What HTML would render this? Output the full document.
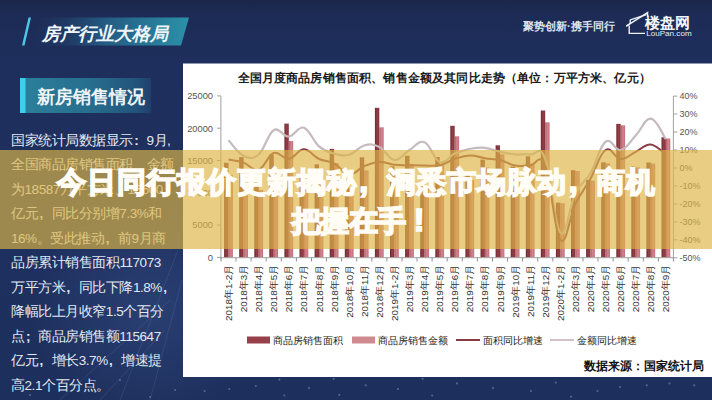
<!DOCTYPE html>
<html><head><meta charset="utf-8">
<style>
html,body{margin:0;padding:0}
body{width:712px;height:400px;overflow:hidden;position:relative;background:#1e2d58;font-family:"Liberation Sans",sans-serif}
.bg{position:absolute;left:0;top:0;width:712px;height:400px;background:linear-gradient(180deg,#1a2749 0px,#1d2b55 14px,#1e2f5d 60px,#1e305f 250px,#1d2f5c 400px)}
.bg2{position:absolute;left:0;top:0;width:712px;height:400px;background:radial-gradient(ellipse 120px 110px at 150px 310px,rgba(70,100,160,0.30),rgba(70,100,160,0) 100%)}
.ban{position:absolute;left:0;top:0}
.body{position:absolute;left:11px;top:128.5px;color:#e2e8f2;font-size:13.5px;letter-spacing:-0.45px;line-height:24.5px;white-space:nowrap}
.p{font-style:normal;display:inline-block;width:1em;text-indent:0.1em;font-weight:bold}
.band{position:absolute;left:0;top:150px;width:712px;height:99px;background:rgba(220,180,68,0.67)}
.big{position:absolute;left:0;top:162.5px;width:712px;text-align:center;color:#fff;font-weight:bold;font-size:28.5px;line-height:39.5px;letter-spacing:1px;text-indent:1px;-webkit-text-stroke:1.7px #fffdf6;color:#fffdf6}
.bc{font-style:normal;display:inline-block;width:29.5px;text-indent:2px;text-align:left;font-size:34px;line-height:10px}
.bx{font-style:normal;display:inline-block;width:29px;text-indent:8px;text-align:left;font-size:32px;line-height:10px}
.l2{padding-left:14.5px;letter-spacing:-0.5px}
</style></head><body>
<div class="bg"></div><div class="bg2"></div>
<svg class="ban" width="712" height="400" viewBox="0 0 712 400">
<defs>
<linearGradient id="gm" x1="0" x2="1"><stop offset="0" stop-color="#6a2a30"/><stop offset="0.5" stop-color="#933d45"/><stop offset="1" stop-color="#82343b"/></linearGradient>
<linearGradient id="gp" x1="0" x2="1"><stop offset="0" stop-color="#b35a68"/><stop offset="0.5" stop-color="#d38490"/><stop offset="1" stop-color="#c0707c"/></linearGradient>
<linearGradient id="bn" x1="0" x2="1"><stop offset="0" stop-color="#1f3a66" stop-opacity="0"/><stop offset="0.45" stop-color="#245a82"/><stop offset="1" stop-color="#2b91a8"/></linearGradient>
<linearGradient id="sec" x1="0" x2="1"><stop offset="0" stop-color="#2b809a"/><stop offset="0.55" stop-color="#276d8e"/><stop offset="0.88" stop-color="#22547b"/><stop offset="1" stop-color="#213f6c"/></linearGradient>
</defs>
<polygon points="22,45.5 28.5,17.5 31,17.5 24.5,45.5" fill="#4cc8e6"/>
<polygon points="40,17.5 189,17.5 181,45.5 34,45.5" fill="url(#bn)"/>
<text x="42" y="40" font-size="18" font-style="italic" font-weight="bold" fill="#eef6fb" style="-webkit-text-stroke:0.6px #eef6fb">房产行业大格局</text>
<text x="523" y="30" font-size="11" font-weight="bold" fill="#dde3ec">聚势创新·携手同行</text>
<g fill="none" stroke="#eef2f8" stroke-width="1.4" stroke-linejoin="miter">
<path d="M626.3,26.2 L647.6,12.6 L647.6,17"/>
<path d="M630.2,19.8 L646.5,14.6"/>
<path d="M630.2,19.8 L630.2,23.5 L626.3,26.2"/>
<path d="M629.2,25.5 L629.2,33.4 L645,33.4"/>
</g>
<text x="645.3" y="28.4" font-size="15.3" font-weight="bold" fill="#f4f6fa" style="-webkit-text-stroke:0.3px #f4f6fa">楼盘网</text>
<text x="646.2" y="35.6" font-size="8.1" fill="#e8eef6">LouPan.com</text>
<rect x="20" y="78" width="131" height="35" fill="url(#sec)"/>
<rect x="20" y="78" width="5.5" height="35" fill="#3ad0ec"/>
<text x="36.5" y="102.6" font-size="18" font-weight="bold" fill="#eef3f8" style="-webkit-text-stroke:0.5px #eef3f8">新房销售情况</text>
<circle cx="204.6" cy="391.0" r="1.1" fill="#8fa6d0" opacity="0.45"/>
<circle cx="229.3" cy="389.0" r="1.1" fill="#8fa6d0" opacity="0.45"/>
<circle cx="255.8" cy="386.0" r="1.1" fill="#8fa6d0" opacity="0.45"/>
<circle cx="279.4" cy="379.6" r="1.1" fill="#8fa6d0" opacity="0.45"/>
<circle cx="284.3" cy="395.5" r="1.1" fill="#8fa6d0" opacity="0.45"/>
<circle cx="309.0" cy="388.0" r="1.1" fill="#8fa6d0" opacity="0.45"/>
<circle cx="333.6" cy="378.8" r="1.1" fill="#8fa6d0" opacity="0.45"/>
<circle cx="339.3" cy="394.8" r="1.1" fill="#8fa6d0" opacity="0.45"/>
<circle cx="365.8" cy="385.3" r="1.1" fill="#8fa6d0" opacity="0.45"/>
<circle cx="398.0" cy="389.0" r="1.1" fill="#8fa6d0" opacity="0.45"/>
<circle cx="422.7" cy="378.8" r="1.1" fill="#8fa6d0" opacity="0.45"/>
<circle cx="432.2" cy="395.5" r="1.1" fill="#8fa6d0" opacity="0.45"/>
<circle cx="457.0" cy="383.4" r="1.1" fill="#8fa6d0" opacity="0.45"/>
<circle cx="493.0" cy="388.0" r="1.1" fill="#8fa6d0" opacity="0.45"/>
<circle cx="531.0" cy="391.0" r="1.1" fill="#8fa6d0" opacity="0.45"/>
<circle cx="555.8" cy="382.6" r="1.1" fill="#8fa6d0" opacity="0.45"/>
<circle cx="571.0" cy="396.6" r="1.1" fill="#8fa6d0" opacity="0.45"/>
<circle cx="597.5" cy="391.0" r="1.1" fill="#8fa6d0" opacity="0.45"/>
<circle cx="620.0" cy="387.0" r="1.1" fill="#8fa6d0" opacity="0.45"/>
<circle cx="646.8" cy="385.3" r="1.1" fill="#8fa6d0" opacity="0.45"/>
<circle cx="669.5" cy="383.4" r="1.1" fill="#8fa6d0" opacity="0.45"/>
<circle cx="694.2" cy="385.3" r="1.1" fill="#8fa6d0" opacity="0.45"/>
<circle cx="30.0" cy="395.0" r="1.1" fill="#8fa6d0" opacity="0.45"/>
<circle cx="95.0" cy="392.0" r="1.1" fill="#8fa6d0" opacity="0.45"/>
<circle cx="150.0" cy="397.0" r="1.1" fill="#8fa6d0" opacity="0.45"/>
<circle cx="120.0" cy="380.0" r="1.1" fill="#8fa6d0" opacity="0.45"/>
<circle cx="175.0" cy="390.0" r="1.1" fill="#8fa6d0" opacity="0.45"/><g stroke="#6d8cc4" stroke-width="0.8" opacity="0.25" fill="none">
<path d="M178,250 L120,400"/><path d="M182,280 L150,400"/><path d="M170,300 L60,400"/><path d="M165,330 L100,400"/>
</g><rect x="183" y="63.5" width="529" height="313.5" fill="#ffffff"/>
<text x="237.5" y="81.5" font-size="12" font-weight="bold" fill="#1a1a1a" letter-spacing="0.16">全国月度商品房销售面积、销售金额及其同比走势（单位：万平方米、亿元）</text>
<line x1="220.9" y1="96" x2="220.9" y2="258.8" stroke="#a0a0a0" stroke-width="1"/>
<line x1="217" y1="257.4" x2="220.9" y2="257.4" stroke="#a0a0a0"/>
<text x="213" y="260.7" font-size="9.3" fill="#555" text-anchor="end">0</text>
<line x1="217" y1="225.1" x2="220.9" y2="225.1" stroke="#a0a0a0"/>
<text x="213" y="228.4" font-size="9.3" fill="#555" text-anchor="end">5000</text>
<line x1="217" y1="192.8" x2="220.9" y2="192.8" stroke="#a0a0a0"/>
<text x="213" y="196.1" font-size="9.3" fill="#555" text-anchor="end">10000</text>
<line x1="217" y1="160.5" x2="220.9" y2="160.5" stroke="#a0a0a0"/>
<text x="213" y="163.8" font-size="9.3" fill="#555" text-anchor="end">15000</text>
<line x1="217" y1="128.2" x2="220.9" y2="128.2" stroke="#a0a0a0"/>
<text x="213" y="131.5" font-size="9.3" fill="#555" text-anchor="end">20000</text>
<line x1="217" y1="95.9" x2="220.9" y2="95.9" stroke="#a0a0a0"/>
<text x="213" y="99.2" font-size="9.3" fill="#555" text-anchor="end">25000</text>
<line x1="673.4" y1="96" x2="673.4" y2="258.8" stroke="#a0a0a0" stroke-width="1"/>
<line x1="673.4" y1="96.1" x2="677.3" y2="96.1" stroke="#a0a0a0"/>
<text x="679.5" y="99.3" font-size="9" fill="#555">40%</text>
<line x1="673.4" y1="114.0" x2="677.3" y2="114.0" stroke="#a0a0a0"/>
<text x="679.5" y="117.2" font-size="9" fill="#555">30%</text>
<line x1="673.4" y1="132.0" x2="677.3" y2="132.0" stroke="#a0a0a0"/>
<text x="679.5" y="135.2" font-size="9" fill="#555">20%</text>
<line x1="673.4" y1="150.0" x2="677.3" y2="150.0" stroke="#a0a0a0"/>
<text x="679.5" y="153.2" font-size="9" fill="#555">10%</text>
<line x1="673.4" y1="168.0" x2="677.3" y2="168.0" stroke="#a0a0a0"/>
<text x="679.5" y="171.2" font-size="9" fill="#555">0%</text>
<line x1="673.4" y1="185.9" x2="677.3" y2="185.9" stroke="#a0a0a0"/>
<text x="679.5" y="189.1" font-size="9" fill="#555">-10%</text>
<line x1="673.4" y1="203.9" x2="677.3" y2="203.9" stroke="#a0a0a0"/>
<text x="679.5" y="207.1" font-size="9" fill="#555">-20%</text>
<line x1="673.4" y1="221.9" x2="677.3" y2="221.9" stroke="#a0a0a0"/>
<text x="679.5" y="225.1" font-size="9" fill="#555">-30%</text>
<line x1="673.4" y1="239.8" x2="677.3" y2="239.8" stroke="#a0a0a0"/>
<text x="679.5" y="243.0" font-size="9" fill="#555">-40%</text>
<line x1="673.4" y1="257.8" x2="677.3" y2="257.8" stroke="#a0a0a0"/>
<text x="679.5" y="261.0" font-size="9" fill="#555">-50%</text>
<rect x="224.1" y="162.8" width="4.4" height="94.6" fill="url(#gm)"/>
<rect x="228.5" y="175.1" width="4.4" height="82.3" fill="url(#gp)"/>
<rect x="239.2" y="157.1" width="4.4" height="100.3" fill="url(#gm)"/>
<rect x="243.6" y="170.1" width="4.4" height="87.3" fill="url(#gp)"/>
<rect x="254.3" y="179.9" width="4.4" height="77.5" fill="url(#gm)"/>
<rect x="258.7" y="190.0" width="4.4" height="67.4" fill="url(#gp)"/>
<rect x="269.3" y="154.6" width="4.4" height="102.8" fill="url(#gm)"/>
<rect x="273.7" y="168.0" width="4.4" height="89.4" fill="url(#gp)"/>
<rect x="284.4" y="123.6" width="4.4" height="133.8" fill="url(#gm)"/>
<rect x="288.8" y="141.0" width="4.4" height="116.4" fill="url(#gp)"/>
<rect x="299.5" y="174.5" width="4.4" height="82.9" fill="url(#gm)"/>
<rect x="303.9" y="185.3" width="4.4" height="72.1" fill="url(#gp)"/>
<rect x="314.6" y="164.3" width="4.4" height="93.1" fill="url(#gm)"/>
<rect x="319.0" y="176.4" width="4.4" height="81.0" fill="url(#gp)"/>
<rect x="329.7" y="148.9" width="4.4" height="108.5" fill="url(#gm)"/>
<rect x="334.1" y="163.0" width="4.4" height="94.4" fill="url(#gp)"/>
<rect x="344.8" y="179.9" width="4.4" height="77.5" fill="url(#gm)"/>
<rect x="349.2" y="190.0" width="4.4" height="67.4" fill="url(#gp)"/>
<rect x="359.8" y="157.3" width="4.4" height="100.1" fill="url(#gm)"/>
<rect x="364.2" y="170.3" width="4.4" height="87.1" fill="url(#gp)"/>
<rect x="374.9" y="107.8" width="4.4" height="149.6" fill="url(#gm)"/>
<rect x="379.3" y="127.3" width="4.4" height="130.1" fill="url(#gp)"/>
<rect x="390.0" y="166.3" width="4.4" height="91.1" fill="url(#gm)"/>
<rect x="394.4" y="173.6" width="4.4" height="83.8" fill="url(#gp)"/>
<rect x="405.1" y="155.8" width="4.4" height="101.6" fill="url(#gm)"/>
<rect x="409.5" y="163.9" width="4.4" height="93.5" fill="url(#gp)"/>
<rect x="420.2" y="181.3" width="4.4" height="76.1" fill="url(#gm)"/>
<rect x="424.6" y="187.4" width="4.4" height="70.0" fill="url(#gp)"/>
<rect x="435.3" y="157.0" width="4.4" height="100.4" fill="url(#gm)"/>
<rect x="439.7" y="165.0" width="4.4" height="92.4" fill="url(#gp)"/>
<rect x="450.3" y="125.8" width="4.4" height="131.6" fill="url(#gm)"/>
<rect x="454.7" y="136.3" width="4.4" height="121.1" fill="url(#gp)"/>
<rect x="465.4" y="173.5" width="4.4" height="83.9" fill="url(#gm)"/>
<rect x="469.8" y="180.2" width="4.4" height="77.2" fill="url(#gp)"/>
<rect x="480.5" y="159.6" width="4.4" height="97.8" fill="url(#gm)"/>
<rect x="484.9" y="167.5" width="4.4" height="89.9" fill="url(#gp)"/>
<rect x="495.6" y="145.3" width="4.4" height="112.1" fill="url(#gm)"/>
<rect x="500.0" y="154.3" width="4.4" height="103.1" fill="url(#gp)"/>
<rect x="510.7" y="166.5" width="4.4" height="90.9" fill="url(#gm)"/>
<rect x="515.1" y="173.8" width="4.4" height="83.6" fill="url(#gp)"/>
<rect x="525.8" y="156.3" width="4.4" height="101.1" fill="url(#gm)"/>
<rect x="530.2" y="164.4" width="4.4" height="93.0" fill="url(#gp)"/>
<rect x="540.8" y="110.5" width="4.4" height="146.9" fill="url(#gm)"/>
<rect x="545.2" y="122.3" width="4.4" height="135.1" fill="url(#gp)"/>
<rect x="555.9" y="202.7" width="4.4" height="54.7" fill="url(#gm)"/>
<rect x="560.3" y="203.2" width="4.4" height="54.2" fill="url(#gp)"/>
<rect x="571.0" y="170.2" width="4.4" height="87.2" fill="url(#gm)"/>
<rect x="575.4" y="171.0" width="4.4" height="86.4" fill="url(#gp)"/>
<rect x="586.1" y="179.9" width="4.4" height="77.5" fill="url(#gm)"/>
<rect x="590.5" y="180.7" width="4.4" height="76.7" fill="url(#gp)"/>
<rect x="601.2" y="162.3" width="4.4" height="95.1" fill="url(#gm)"/>
<rect x="605.6" y="163.3" width="4.4" height="94.1" fill="url(#gp)"/>
<rect x="616.3" y="123.9" width="4.4" height="133.5" fill="url(#gm)"/>
<rect x="620.7" y="125.3" width="4.4" height="132.1" fill="url(#gp)"/>
<rect x="631.3" y="166.5" width="4.4" height="90.9" fill="url(#gm)"/>
<rect x="635.7" y="167.4" width="4.4" height="90.0" fill="url(#gp)"/>
<rect x="646.4" y="162.5" width="4.4" height="94.9" fill="url(#gm)"/>
<rect x="650.8" y="163.5" width="4.4" height="93.9" fill="url(#gp)"/>
<rect x="661.5" y="137.3" width="4.4" height="120.1" fill="url(#gm)"/>
<rect x="665.9" y="138.5" width="4.4" height="118.9" fill="url(#gp)"/>
<line x1="220.9" y1="257.7" x2="673.4" y2="257.7" stroke="#a0a0a0"/>
<line x1="221.0" y1="257.7" x2="221.0" y2="261.5" stroke="#909090"/>
<line x1="236.0" y1="257.7" x2="236.0" y2="261.5" stroke="#909090"/>
<line x1="251.1" y1="257.7" x2="251.1" y2="261.5" stroke="#909090"/>
<line x1="266.2" y1="257.7" x2="266.2" y2="261.5" stroke="#909090"/>
<line x1="281.3" y1="257.7" x2="281.3" y2="261.5" stroke="#909090"/>
<line x1="296.4" y1="257.7" x2="296.4" y2="261.5" stroke="#909090"/>
<line x1="311.5" y1="257.7" x2="311.5" y2="261.5" stroke="#909090"/>
<line x1="326.5" y1="257.7" x2="326.5" y2="261.5" stroke="#909090"/>
<line x1="341.6" y1="257.7" x2="341.6" y2="261.5" stroke="#909090"/>
<line x1="356.7" y1="257.7" x2="356.7" y2="261.5" stroke="#909090"/>
<line x1="371.8" y1="257.7" x2="371.8" y2="261.5" stroke="#909090"/>
<line x1="386.9" y1="257.7" x2="386.9" y2="261.5" stroke="#909090"/>
<line x1="402.0" y1="257.7" x2="402.0" y2="261.5" stroke="#909090"/>
<line x1="417.0" y1="257.7" x2="417.0" y2="261.5" stroke="#909090"/>
<line x1="432.1" y1="257.7" x2="432.1" y2="261.5" stroke="#909090"/>
<line x1="447.2" y1="257.7" x2="447.2" y2="261.5" stroke="#909090"/>
<line x1="462.3" y1="257.7" x2="462.3" y2="261.5" stroke="#909090"/>
<line x1="477.4" y1="257.7" x2="477.4" y2="261.5" stroke="#909090"/>
<line x1="492.5" y1="257.7" x2="492.5" y2="261.5" stroke="#909090"/>
<line x1="507.5" y1="257.7" x2="507.5" y2="261.5" stroke="#909090"/>
<line x1="522.6" y1="257.7" x2="522.6" y2="261.5" stroke="#909090"/>
<line x1="537.7" y1="257.7" x2="537.7" y2="261.5" stroke="#909090"/>
<line x1="552.8" y1="257.7" x2="552.8" y2="261.5" stroke="#909090"/>
<line x1="567.9" y1="257.7" x2="567.9" y2="261.5" stroke="#909090"/>
<line x1="583.0" y1="257.7" x2="583.0" y2="261.5" stroke="#909090"/>
<line x1="598.0" y1="257.7" x2="598.0" y2="261.5" stroke="#909090"/>
<line x1="613.1" y1="257.7" x2="613.1" y2="261.5" stroke="#909090"/>
<line x1="628.2" y1="257.7" x2="628.2" y2="261.5" stroke="#909090"/>
<line x1="643.3" y1="257.7" x2="643.3" y2="261.5" stroke="#909090"/>
<line x1="658.4" y1="257.7" x2="658.4" y2="261.5" stroke="#909090"/>
<line x1="673.4" y1="257.7" x2="673.4" y2="261.5" stroke="#909090"/>
<path d="M228.5,140.3 C231.5,143.4 237.5,153.1 243.6,155.9 C249.6,158.7 252.6,159.6 258.7,154.5 C264.7,149.3 267.7,133.8 273.7,130.2 C279.8,126.6 282.8,137.0 288.8,136.5 C294.9,136.0 297.9,125.7 303.9,127.7 C309.9,129.7 313.0,141.2 319.0,146.4 C325.0,151.6 328.0,151.9 334.1,153.6 C340.1,155.3 343.1,156.4 349.2,154.8 C355.2,153.2 358.2,147.1 364.2,145.5 C370.3,143.9 373.3,144.0 379.3,146.9 C385.4,149.8 388.4,159.4 394.4,160.0 C400.4,160.7 403.5,153.5 409.5,150.0 C415.5,146.4 418.5,139.8 424.6,142.3 C430.6,144.7 433.6,159.8 439.7,162.0 C445.7,164.3 448.7,156.2 454.7,153.6 C460.8,151.0 463.8,150.1 469.8,148.9 C475.9,147.8 478.9,147.2 484.9,147.8 C490.9,148.4 494.0,150.4 500.0,151.8 C506.0,153.1 509.0,153.9 515.1,154.5 C521.1,155.0 524.1,153.6 530.2,154.5 C536.2,155.4 539.2,143.3 545.2,159.0 C551.3,174.6 554.3,225.8 560.3,232.6 C566.4,239.5 569.4,205.0 575.4,193.1 C581.4,181.2 584.5,183.6 590.5,173.3 C596.5,163.1 599.5,146.4 605.6,141.7 C611.6,137.0 614.6,151.2 620.7,150.0 C626.7,148.8 629.7,141.9 635.7,135.6 C641.8,129.4 644.8,118.0 650.8,118.7 C656.9,119.4 662.9,135.1 665.9,139.2" fill="none" stroke="#c6babe" stroke-width="2.2"/>
<path d="M228.5,159.5 C231.5,160.1 237.5,160.5 243.6,162.6 C249.6,164.6 252.6,171.7 258.7,169.7 C264.7,167.8 267.7,155.2 273.7,153.0 C279.8,150.9 282.8,159.7 288.8,159.0 C294.9,158.2 297.9,149.3 303.9,149.3 C309.9,149.3 313.0,156.2 319.0,159.0 C325.0,161.8 328.0,160.2 334.1,163.3 C340.1,166.4 343.1,173.8 349.2,174.4 C355.2,175.0 358.2,168.6 364.2,166.2 C370.3,163.7 373.3,162.3 379.3,162.0 C385.4,161.7 388.4,164.1 394.4,164.7 C400.4,165.4 403.5,165.1 409.5,165.3 C415.5,165.4 418.5,165.4 424.6,165.4 C430.6,165.4 433.6,166.5 439.7,165.3 C445.7,164.0 448.7,160.9 454.7,159.0 C460.8,157.0 463.8,155.5 469.8,155.4 C475.9,155.2 478.9,157.3 484.9,158.2 C490.9,159.2 494.0,158.6 500.0,160.0 C506.0,161.5 509.0,164.6 515.1,165.6 C521.1,166.7 524.1,165.1 530.2,165.3 C536.2,165.4 539.2,151.2 545.2,166.2 C551.3,181.1 554.3,232.3 560.3,239.8 C566.4,247.4 569.4,216.1 575.4,203.9 C581.4,191.7 584.5,189.5 590.5,178.7 C596.5,168.0 599.5,153.9 605.6,150.0 C611.6,146.0 614.6,158.6 620.7,159.0 C626.7,159.3 629.7,154.7 635.7,151.8 C641.8,148.9 644.8,144.0 650.8,144.6 C656.9,145.2 662.9,152.8 665.9,154.8" fill="none" stroke="#8a3b44" stroke-width="2"/>
<text transform="translate(228.5,264.8) rotate(-90)" x="0" y="3.5" font-size="9.9" fill="#333" text-anchor="end">2018年1-2月</text>
<text transform="translate(243.6,264.8) rotate(-90)" x="0" y="3.5" font-size="9.9" fill="#333" text-anchor="end">2018年3月</text>
<text transform="translate(258.7,264.8) rotate(-90)" x="0" y="3.5" font-size="9.9" fill="#333" text-anchor="end">2018年4月</text>
<text transform="translate(273.7,264.8) rotate(-90)" x="0" y="3.5" font-size="9.9" fill="#333" text-anchor="end">2018年5月</text>
<text transform="translate(288.8,264.8) rotate(-90)" x="0" y="3.5" font-size="9.9" fill="#333" text-anchor="end">2018年6月</text>
<text transform="translate(303.9,264.8) rotate(-90)" x="0" y="3.5" font-size="9.9" fill="#333" text-anchor="end">2018年7月</text>
<text transform="translate(319.0,264.8) rotate(-90)" x="0" y="3.5" font-size="9.9" fill="#333" text-anchor="end">2018年8月</text>
<text transform="translate(334.1,264.8) rotate(-90)" x="0" y="3.5" font-size="9.9" fill="#333" text-anchor="end">2018年9月</text>
<text transform="translate(349.2,264.8) rotate(-90)" x="0" y="3.5" font-size="9.9" fill="#333" text-anchor="end">2018年10月</text>
<text transform="translate(364.2,264.8) rotate(-90)" x="0" y="3.5" font-size="9.9" fill="#333" text-anchor="end">2018年11月</text>
<text transform="translate(379.3,264.8) rotate(-90)" x="0" y="3.5" font-size="9.9" fill="#333" text-anchor="end">2018年12月</text>
<text transform="translate(394.4,264.8) rotate(-90)" x="0" y="3.5" font-size="9.9" fill="#333" text-anchor="end">2019年1-2月</text>
<text transform="translate(409.5,264.8) rotate(-90)" x="0" y="3.5" font-size="9.9" fill="#333" text-anchor="end">2019年3月</text>
<text transform="translate(424.6,264.8) rotate(-90)" x="0" y="3.5" font-size="9.9" fill="#333" text-anchor="end">2019年4月</text>
<text transform="translate(439.7,264.8) rotate(-90)" x="0" y="3.5" font-size="9.9" fill="#333" text-anchor="end">2019年5月</text>
<text transform="translate(454.7,264.8) rotate(-90)" x="0" y="3.5" font-size="9.9" fill="#333" text-anchor="end">2019年6月</text>
<text transform="translate(469.8,264.8) rotate(-90)" x="0" y="3.5" font-size="9.9" fill="#333" text-anchor="end">2019年7月</text>
<text transform="translate(484.9,264.8) rotate(-90)" x="0" y="3.5" font-size="9.9" fill="#333" text-anchor="end">2019年8月</text>
<text transform="translate(500.0,264.8) rotate(-90)" x="0" y="3.5" font-size="9.9" fill="#333" text-anchor="end">2019年9月</text>
<text transform="translate(515.1,264.8) rotate(-90)" x="0" y="3.5" font-size="9.9" fill="#333" text-anchor="end">2019年10月</text>
<text transform="translate(530.2,264.8) rotate(-90)" x="0" y="3.5" font-size="9.9" fill="#333" text-anchor="end">2019年11月</text>
<text transform="translate(545.2,264.8) rotate(-90)" x="0" y="3.5" font-size="9.9" fill="#333" text-anchor="end">2019年12月</text>
<text transform="translate(560.3,264.8) rotate(-90)" x="0" y="3.5" font-size="9.9" fill="#333" text-anchor="end">2020年1-2月</text>
<text transform="translate(575.4,264.8) rotate(-90)" x="0" y="3.5" font-size="9.9" fill="#333" text-anchor="end">2020年3月</text>
<text transform="translate(590.5,264.8) rotate(-90)" x="0" y="3.5" font-size="9.9" fill="#333" text-anchor="end">2020年4月</text>
<text transform="translate(605.6,264.8) rotate(-90)" x="0" y="3.5" font-size="9.9" fill="#333" text-anchor="end">2020年5月</text>
<text transform="translate(620.7,264.8) rotate(-90)" x="0" y="3.5" font-size="9.9" fill="#333" text-anchor="end">2020年6月</text>
<text transform="translate(635.7,264.8) rotate(-90)" x="0" y="3.5" font-size="9.9" fill="#333" text-anchor="end">2020年7月</text>
<text transform="translate(650.8,264.8) rotate(-90)" x="0" y="3.5" font-size="9.9" fill="#333" text-anchor="end">2020年8月</text>
<text transform="translate(665.9,264.8) rotate(-90)" x="0" y="3.5" font-size="9.9" fill="#333" text-anchor="end">2020年9月</text>
<rect x="247" y="336.5" width="23" height="7" fill="#98404a"/>
<text x="273" y="344" font-size="10" fill="#222">商品房销售面积</text>
<rect x="352" y="336.5" width="23" height="7" fill="#cf8a90"/>
<text x="377.5" y="344" font-size="10" fill="#222">商品房销售金额</text>
<line x1="456" y1="340" x2="480" y2="340" stroke="#8a3b44" stroke-width="2"/>
<text x="482.5" y="344" font-size="10" fill="#222">面积同比增速</text>
<line x1="550" y1="340" x2="574" y2="340" stroke="#d4c2c6" stroke-width="2"/>
<text x="576.5" y="344" font-size="10" fill="#222">金额同比增速</text>
<text x="584" y="370" font-size="12" font-weight="bold" fill="#111">数据来源：国家统计局</text>
</svg>
<div class="body">国家统计局数据显示<i class="p">:</i>9月,<br>全国商品房销售面积、金额<br>为18587万平方米、16600<br>亿元<i class="p">,</i>同比分别增7.3%和<br>16%。受此推动<i class="p">,</i>前9月商<br>品房累计销售面积117073<br>万平方米<i class="p">,</i>同比下降1.8%<i class="p">,</i><br>降幅比上月收窄1.5个百分<br>点<i class="p">;</i>商品房销售额115647<br>亿元<i class="p">,</i>增长3.7%<i class="p">,</i>增速提<br>高2.1个百分点。</div>
<div class="band"></div>
<div class="big">今日同行报价更新揭秘<i class="bc">,</i>洞悉市场脉动<i class="bc">,</i>商机<br><span class="l2">把握在手<i class="bx">!</i></span></div>
</body></html>
